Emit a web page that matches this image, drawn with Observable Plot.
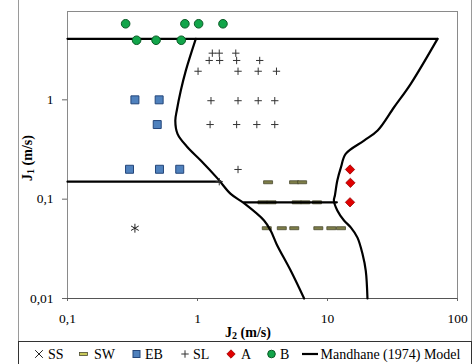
<!DOCTYPE html>
<html><head><meta charset="utf-8">
<script src="https://cdn.jsdelivr.net/npm/d3@7"></script>
<script src="https://cdn.jsdelivr.net/npm/@observablehq/plot@0.6"></script>
<style>
body{margin:0;background:#fff;font-family:"Liberation Serif","DejaVu Serif",serif;}
#wrap{position:relative;width:474px;height:364px;overflow:hidden;}
#chart svg{position:absolute;left:0;top:0;font-family:"Liberation Serif","DejaVu Serif",serif !important;}
#chart svg text{font-family:"Liberation Serif","DejaVu Serif",serif !important;}
#frame{position:absolute;left:18px;top:-2px;width:452px;height:343px;border:1px solid #9a9a9a;}
#legend{position:absolute;left:18px;top:341px;width:452px;height:24px;border:1px solid #333;border-bottom:none;background:#fff;}
#legend text{font-family:"Liberation Serif","DejaVu Serif",serif;}
.ttl{position:absolute;font-family:"Liberation Serif","DejaVu Serif",serif;font-weight:bold;font-size:14px;white-space:nowrap;color:#000;}
.ttl sub{font-size:10px;vertical-align:-2px;}
</style>
</head><body>
<div id="wrap">
  <div id="chart"></div>
  <div id="frame"></div>
  <div class="ttl" id="ytitle" style="left:28px;top:158px;transform:translate(-50%,-50%) rotate(-90deg);">J<sub>1</sub> (m/s)</div>
  <div class="ttl" id="xtitle" style="left:248px;top:333px;transform:translate(-50%,-50%);">J<sub>2</sub> (m/s)</div>
  <div id="legend"></div>
</div>
<script>
// ---- data ----
const xTicks = [0.1, 1, 10, 100];
const yTicks = [0.01, 0.1, 1];

const ssX = [0.33];
const ssY = [0.051];

const swX = [3.49, 5.53, 6.38, 3.16, 3.71, 5.8, 6.75, 8.3, 3.41, 4.45, 5.55, 8.5, 10.7, 12.7];
const swY = [0.148, 0.148, 0.148, 0.093, 0.093, 0.093, 0.093, 0.093, 0.051, 0.051, 0.051, 0.051, 0.051, 0.051];

const ebX = [0.33, 0.507, 0.49, 0.30, 0.51, 0.73];
const ebY = [1.0, 1.0, 0.564, 0.2, 0.2, 0.2];

const slX = [1.30, 1.47, 1.97, 1.23, 1.48, 2.0, 3.01, 1.01, 2.05, 2.93, 4.05, 1.27, 2.05, 2.93, 3.93, 1.25, 2.0, 2.86, 3.93, 2.05, 1.47];
const slY = [2.95, 2.95, 2.95, 2.49, 2.49, 2.49, 2.49, 1.94, 1.94, 1.94, 1.94, 0.98, 0.98, 0.98, 0.98, 0.564, 0.564, 0.564, 0.564, 0.199, 0.15];

const aX = [14.9, 15.0, 14.9];
const aY = [0.199, 0.146, 0.093];

const bX = [0.28, 0.8, 1.02, 1.57, 0.34, 0.48, 0.75];
const bY = [5.83, 5.83, 5.83, 5.83, 3.98, 3.98, 3.98];

// Mandhane (1974) model boundaries
const topLineX = [0.1, 70.2];
const topLineY = [4.11, 4.11];
const rightCurveX = [70.2, 43.7, 32.5, 24.3, 19.1, 13.8, 12.7, 11.9, 11.4, 11.2, 11.9, 13.4, 15.1, 17.0, 18.6, 19.7, 20.3];
const rightCurveY = [4.11, 1.45, 0.842, 0.491, 0.389, 0.286, 0.21, 0.154, 0.109, 0.097, 0.077, 0.061, 0.052, 0.041, 0.028, 0.019, 0.01];
const leftCurveX = [0.97, 0.813, 0.744, 0.693, 0.675, 0.702, 0.838, 1.06, 1.43, 1.80, 2.28, 3.25, 3.66, 4.07, 5.22, 6.61];
const leftCurveY = [4.11, 1.97, 1.24, 0.78, 0.62, 0.455, 0.333, 0.245, 0.161, 0.113, 0.091, 0.061, 0.048, 0.035, 0.019, 0.01];
const lowLineX = [0.1, 1.51];
const lowLineY = [0.150, 0.150];
const midLineX = [2.28, 11.8];
const midLineY = [0.093, 0.093];

const legendLabels = ["SS", "SW", "EB", "SL", "A", "B", "Mandhane (1974) Model"];

// ---- build ----
const FONT = "'Liberation Serif', 'DejaVu Serif', serif";
const pts = (xs, ys) => xs.map((x, i) => ({x, y: ys[i]}));
const fmt = d => String(d).replace(".", ",");
const dashSymbol = {draw(ctx, size) { const r = Math.sqrt(size / Math.PI); ctx.rect(-r, -1.5, 2 * r, 3); }};
const lineStyle = {x: "x", y: "y", stroke: "#000", strokeWidth: 2.2};

const plot = Plot.plot({
  width: 474, height: 342,
  marginLeft: 67, marginRight: 17, marginTop: 11, marginBottom: 44,
  x: {type: "log", domain: [0.1, 100]},
  y: {type: "log", domain: [0.01, 7.75]},
  style: {fontFamily: FONT, fontSize: "13px", color: "#000", background: "transparent"},
  marks: [
    Plot.frame({stroke: "#8a8a8a"}),
    Plot.axisY({ticks: yTicks, tickFormat: fmt, tickSize: 5, tickPadding: 9, label: null, stroke: "#666", fill: "#000", fontSize: 13.5}),
    Plot.axisX({ticks: xTicks, tickFormat: fmt, tickSize: 3, tickPadding: 12, label: null, stroke: "#666", fill: "#000", fontSize: 13.5}),
    Plot.ruleY([0.01], {stroke: "#555"}),
    Plot.dot(pts(swX, swY), {x: "x", y: "y", symbol: dashSymbol, r: 4.5, fill: "#7d7d48", stroke: "#4a4a30", strokeWidth: 0.8}),
    Plot.line(pts(topLineX, topLineY), lineStyle),
    Plot.line(pts(rightCurveX, rightCurveY), {...lineStyle, curve: "catmull-rom"}),
    Plot.line(pts(leftCurveX, leftCurveY), {...lineStyle, curve: "catmull-rom"}),
    Plot.line(pts(lowLineX, lowLineY), lineStyle),
    Plot.line(pts(midLineX, midLineY), lineStyle),
    Plot.dot(pts(ssX, ssY), {x: "x", y: "y", symbol: "asterisk", r: 4.2, stroke: "#222", strokeWidth: 1}),
    Plot.dot(pts(ebX, ebY), {x: "x", y: "y", symbol: "square", r: 4.5, fill: "#4f81bd", stroke: "#24467a", strokeWidth: 1}),
    Plot.dot(pts(slX, slY), {x: "x", y: "y", symbol: "plus", r: 2.5, stroke: "#333", strokeWidth: 1}),
    Plot.dot(pts(aX, aY), {x: "x", y: "y", symbol: "diamond2", r: 4.2, fill: "#e00000", stroke: "#900", strokeWidth: 0.8}),
    Plot.dot(pts(bX, bY), {x: "x", y: "y", symbol: "circle", r: 4.3, fill: "#12a54a", stroke: "#0a5a26", strokeWidth: 1})
  ]
});
document.getElementById("chart").appendChild(plot);

// ---- legend ----
const lg = d3.select("#legend").append("svg").attr("width", 452).attr("height", 24)
  .style("font-family", FONT).style("font-size", "14px");
const cy = 12;
const symX = [20, 64.5, 117.5, 166, 212, 252.5, 283];
const txtX = [29, 75, 126, 174, 222, 261, 301.5];
lg.append("path").attr("d", d3.symbol(d3.symbolTimes, 40)()).attr("transform", `translate(${symX[0]},${cy})`).attr("stroke", "#222").attr("fill", "none");
lg.append("rect").attr("x", symX[1] - 4).attr("y", cy - 1.5).attr("width", 8).attr("height", 3).attr("fill", "#c8c85a").attr("stroke", "#4a4a30").attr("stroke-width", 0.8);
lg.append("rect").attr("x", symX[2] - 3.5).attr("y", cy - 3.5).attr("width", 7).attr("height", 7).attr("fill", "#4f81bd").attr("stroke", "#24467a");
lg.append("path").attr("d", d3.symbol(d3.symbolPlus, 20)()).attr("transform", `translate(${symX[3]},${cy})`).attr("stroke", "#333").attr("fill", "none");
lg.append("path").attr("d", d3.symbol(d3.symbolDiamond2, 45)()).attr("transform", `translate(${symX[4]},${cy})`).attr("fill", "#e00000").attr("stroke", "#900").attr("stroke-width", 0.8);
lg.append("circle").attr("cx", symX[5]).attr("cy", cy).attr("r", 3.8).attr("fill", "#12a54a").attr("stroke", "#0a5a26");
lg.append("line").attr("x1", symX[6]).attr("x2", symX[6] + 16).attr("y1", cy).attr("y2", cy).attr("stroke", "#000").attr("stroke-width", 2.2);
legendLabels.forEach((t, i) => {
  lg.append("text").attr("x", txtX[i]).attr("y", cy).attr("dy", "0.35em").text(t);
});
</script>
</body></html>
